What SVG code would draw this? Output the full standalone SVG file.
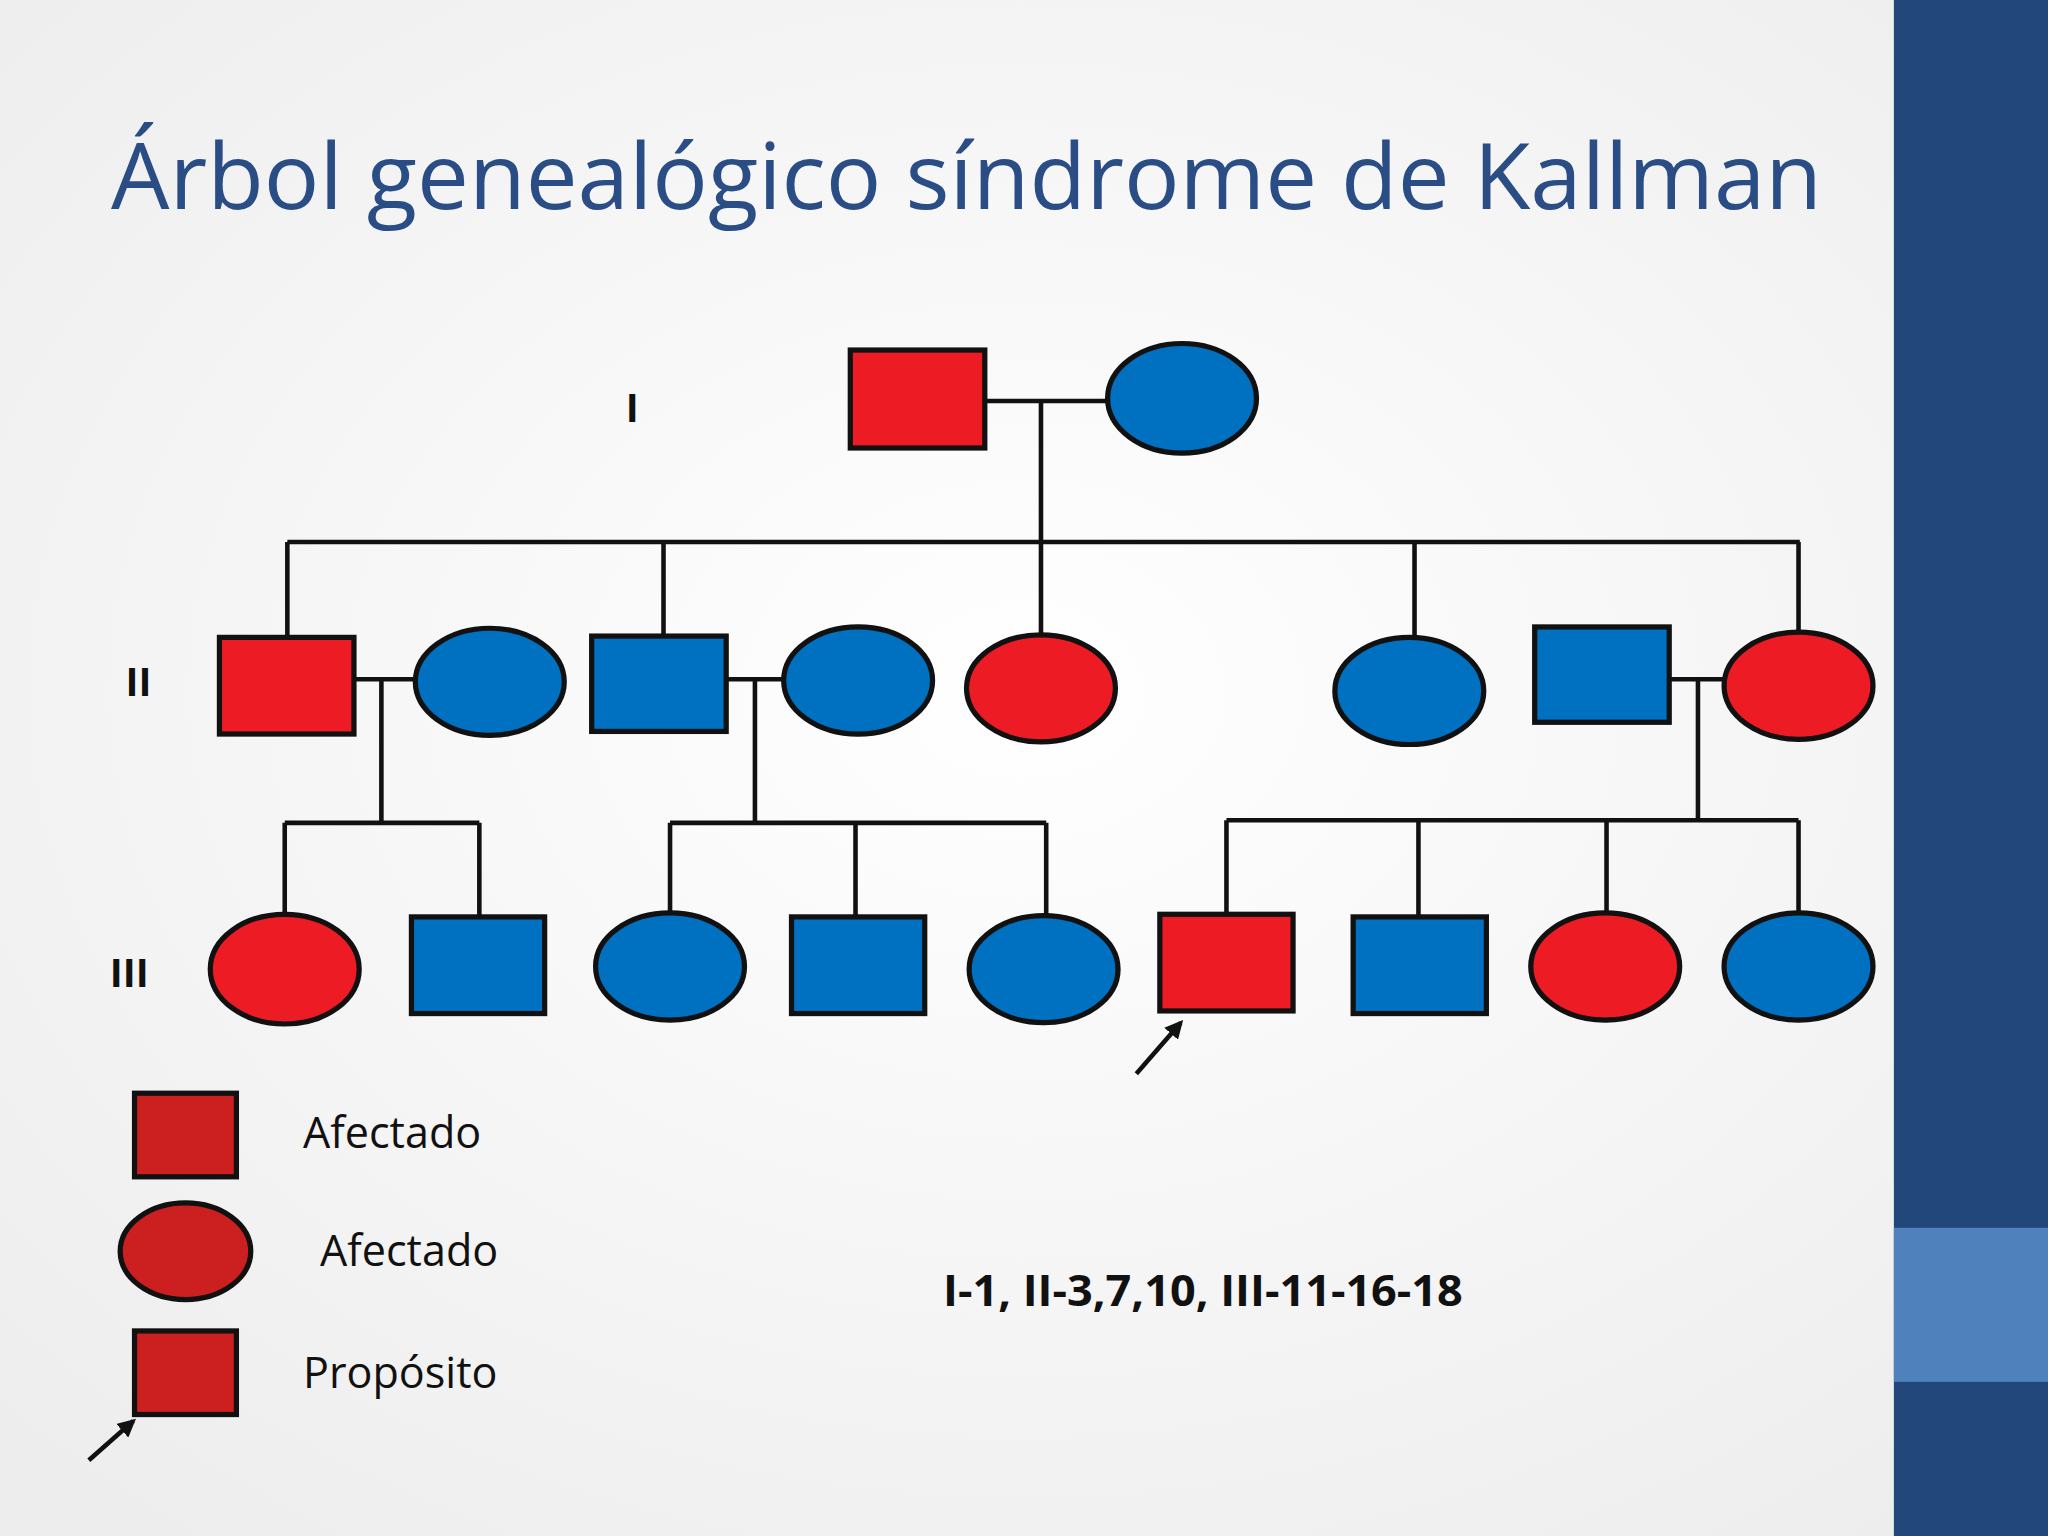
<svg xmlns="http://www.w3.org/2000/svg" width="2048" height="1536" viewBox="0 0 2048 1536">
<defs>
<radialGradient id="bg" cx="0.5" cy="0.45" r="0.7"><stop offset="0" stop-color="#ffffff"/><stop offset="1" stop-color="#ededed"/></radialGradient>
<marker id="ah" viewBox="0 0 10 10" refX="8" refY="5" markerWidth="4" markerHeight="4" orient="auto"><path d="M0,0 L10,5 L0,10 z" fill="#111"/></marker>
<style>
.r{fill:#ed1c24;stroke:#111;stroke-width:4}
.b{fill:#0070c0;stroke:#111;stroke-width:4}
.lr{fill:#cc1f1f;stroke:#111;stroke-width:4}
.ln{stroke:#111;stroke-width:3.5;fill:none}
.t{font-family:"Open Sans","Liberation Sans",sans-serif;fill:#111}
</style>
</defs>
<g transform="scale(1.30612)">
<rect width="1568" height="1176" fill="url(#bg)"/>
<rect x="1450" y="0" width="118" height="1176" fill="#22477a"/>
<rect x="1450" y="940" width="118" height="118" fill="#4f81bd"/>
<text x="85" y="160" font-family="'Open Sans','Liberation Sans',sans-serif" font-size="70" fill="#2a4d85" textLength="1310" lengthAdjust="spacingAndGlyphs">Árbol genealógico síndrome de Kallman</text>
<g class="t" font-weight="bold" font-size="30">
<text x="484" y="323" text-anchor="middle">I</text>
<text x="106" y="533" text-anchor="middle">II</text>
<text x="99" y="756" text-anchor="middle">III</text>
</g>
<g id="connectors">
<path class="ln" d="M754,307H848 M797,307V415 M220,415H1378 M220,415V488 M508,415V487 M797,415V486 M1083,415V488 M1377,415V485"/>
<path class="ln" d="M271,520H318 M292,520V630 M556,520H600 M578,520V630 M1278,520H1320 M1300,520V628"/>
<path class="ln" d="M218,630H367 M218,630V702 M367,630V702 M513,630H801 M513,630V700 M655,630V702 M801,630V700 M939,628H1377 M939,628V700 M1086,628V702 M1230,628V700 M1377,628V700"/>
<line class="ln" x1="870" y1="822" x2="904" y2="783" stroke-width="5" marker-end="url(#ah)"/>
<line class="ln" x1="68" y1="1118" x2="102" y2="1088" stroke-width="5" marker-end="url(#ah)"/>
</g>
<g id="I-1"><rect class="r" x="651" y="268" width="103" height="75"/></g>
<g id="I-2"><ellipse class="b" cx="905" cy="305" rx="57" ry="42"/></g>
<g id="II-1"><rect class="r" x="168" y="488" width="103" height="74"/></g>
<g id="II-2"><ellipse class="b" cx="375" cy="522" rx="57" ry="41"/></g>
<g id="II-3"><rect class="b" x="453" y="487" width="103" height="73"/></g>
<g id="II-4"><ellipse class="b" cx="657" cy="521" rx="57" ry="41"/></g>
<g id="II-5"><ellipse class="r" cx="797" cy="527" rx="57" ry="41"/></g>
<g id="II-6"><ellipse class="b" cx="1079" cy="529" rx="57" ry="41"/></g>
<g id="II-7"><rect class="b" x="1175" y="480" width="103" height="73"/></g>
<g id="II-8"><ellipse class="r" cx="1377" cy="525" rx="57" ry="41"/></g>
<g id="III-1"><ellipse class="r" cx="218" cy="742" rx="57" ry="42"/></g>
<g id="III-2"><rect class="b" x="315" y="702" width="102" height="74"/></g>
<g id="III-3"><ellipse class="b" cx="513" cy="740" rx="57" ry="41"/></g>
<g id="III-4"><rect class="b" x="606" y="702" width="102" height="74"/></g>
<g id="III-5"><ellipse class="b" cx="799" cy="742" rx="57" ry="41"/></g>
<g id="III-6"><rect class="r" x="888" y="700" width="102" height="74"/></g>
<g id="III-7"><rect class="b" x="1036" y="702" width="102" height="74"/></g>
<g id="III-8"><ellipse class="r" cx="1229" cy="740" rx="57" ry="41"/></g>
<g id="III-9"><ellipse class="b" cx="1377" cy="740" rx="57" ry="41"/></g>
<g id="legend">
<rect class="lr" x="103" y="837" width="78" height="64"/>
<ellipse class="lr" cx="142" cy="958" rx="50" ry="37"/>
<rect class="lr" x="103" y="1019" width="78" height="64"/>
<g class="t" font-size="33">
<text x="232" y="879">Afectado</text>
<text x="245" y="969">Afectado</text>
<text x="232" y="1063">Propósito</text>
</g>
</g>
<text class="t" x="722" y="1000" font-size="33" font-weight="bold" textLength="398" lengthAdjust="spacingAndGlyphs">I-1, II-3,7,10, III-11-16-18</text>
</g>
</svg>
